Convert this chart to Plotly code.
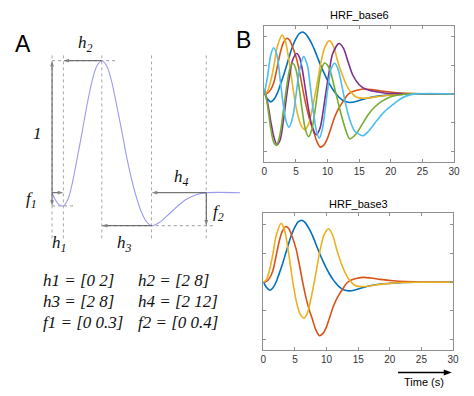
import plotly.graph_objects as go

# ---------------- data ----------------
# Panel A: schematic canonical HRF (time in s, normalised amplitude)
hrf_t = [0, 0.3, 0.7, 1.14, 1.6, 2.0, 2.5, 3.0, 3.5, 4.0, 4.5, 5.0, 5.5, 6.0, 6.5,
         7.0, 7.5, 8.0, 8.5, 9.0, 9.5, 10.0, 10.7, 11.5, 12.5, 13.5, 14.5, 15.5, 18.9]
hrf_v = [0, -0.05, -0.09, -0.10, -0.05, 0.06, 0.25, 0.45, 0.66, 0.84, 0.96, 1.0, 0.96, 0.84, 0.66,
         0.47, 0.27, 0.10, -0.04, -0.15, -0.22, -0.25, -0.23, -0.18, -0.11, -0.05, -0.015, 0, 0]

param_rows = [("h1 = [0 2]", "h2 = [2 8]"),
              ("h3 = [2 8]", "h4 = [2 12]"),
              ("f1 = [0 0.3]", "f2 = [0 0.4]")]

# Panel B basis functions (time in s, amplitude in arbitrary units)
blue_t = [0, 0.5, 1, 1.5, 2, 2.5, 3, 3.5, 4, 4.5, 5, 5.5, 6.05, 6.5, 7, 7.5, 8, 8.5, 9, 9.5,
          10, 10.5, 11, 11.5, 12, 12.7, 13.5, 14.5, 15.5, 16.5, 18, 20, 22, 24, 30]
blue_v = [0, -0.18, -0.28, -0.2, 0.0, 0.3, 0.62, 0.98, 1.35, 1.68, 1.93, 2.1, 2.16, 2.1, 1.95, 1.75, 1.5, 1.22, 0.95, 0.7,
          0.47, 0.27, 0.1, -0.04, -0.16, -0.26, -0.3, -0.27, -0.2, -0.14, -0.08, -0.04, -0.01, 0, 0]

red_t = [0, 0.5, 1, 1.5, 2, 2.5, 3, 3.58, 4, 4.5, 5.16, 5.7, 6.2, 6.7, 7.2, 7.8, 8.3, 8.85, 9.4, 9.95,
         10.5, 11, 11.5, 12, 12.6, 13.1, 13.6, 14.5, 15.75, 17, 18.5, 20.5, 22.5, 25, 30]
red_v = [0, 0.03, 0.15, 0.4, 0.9, 1.42, 1.78, 1.94, 1.87, 1.62, 1.17, 0.6, 0.02, -0.5, -0.92, -1.32, -1.66, -1.86, -1.79, -1.57,
         -1.22, -0.88, -0.62, -0.42, -0.22, -0.05, 0.04, 0.12, 0.17, 0.15, 0.1, 0.05, 0.02, 0, 0]

yellow_t = [0, 0.5, 1, 1.5, 2, 2.8, 3.3, 3.8, 4.3, 4.7, 5.2, 5.8, 6.45, 7, 7.5, 8, 8.5, 9, 9.6, 10.3,
            11, 11.5, 12.05, 13, 13.6, 14.6, 16, 18, 20, 22, 24, 30]
yellow_v = [0, 0.1, 0.45, 0.97, 1.6, 2.05, 1.85, 1.3, 0.55, -0.05, -0.65, -1.1, -1.25, -1.05, -0.6, -0.05, 0.55, 1.15, 1.65, 1.86,
            1.62, 1.22, 0.83, 0.3, 0.08, -0.12, -0.15, -0.09, -0.04, -0.01, 0, 0]

purple_t = [0, 0.5, 1, 1.5, 2, 2.5, 3, 3.5, 4, 4.5, 5.1, 5.6, 6, 6.5, 7, 7.5, 8.2, 8.8, 9.3, 9.8,
            10.3, 10.8, 11.8, 12.5, 13.2, 14, 15, 16, 17.5, 19, 21, 23, 30]
purple_v = [0.12, -0.3, -0.95, -1.5, -1.78, -1.6, -0.95, -0.1, 0.65, 1.2, 1.41, 1.25, 0.85, 0.15, -0.55, -1.1, -1.43, -1.2, -0.6, 0.15,
            0.85, 1.4, 1.76, 1.6, 1.15, 0.65, 0.32, 0.17, 0.08, 0.03, 0.01, 0, 0]

green_t = [0, 0.5, 1, 1.5, 1.9, 2.4, 3, 3.5, 4, 4.5, 5, 5.5, 6, 6.5, 7, 7.5, 8, 8.5, 9, 9.55,
           10, 10.5, 11, 11.5, 12, 12.5, 13, 13.5, 14.5, 15.5, 16.5, 17.5, 18.5, 20, 21.5, 23, 30]
green_v = [0.2, -0.4, -1.2, -1.7, -1.8, -1.5, -0.6, 0.2, 0.85, 1.07, 0.85, 0.2, -0.6, -1.25, -1.49, -1.25, -0.6, 0.2, 0.85, 1.08,
           1.0, 0.75, 0.3, -0.15, -0.6, -1.0, -1.35, -1.57, -1.4, -1.05, -0.7, -0.45, -0.27, -0.1, -0.03, 0, 0]

cyan_t = [0, 0.5, 1, 1.47, 2, 2.5, 3, 3.5, 3.9, 4.5, 5, 5.5, 6.2, 6.8, 7.3, 7.8, 8.3, 8.7, 9.2, 9.7,
          10.2, 10.6, 11.1, 11.6, 12.2, 12.8, 13.5, 14.3, 15.6, 16.5, 17.7, 19, 20.3, 21.5, 22.5, 24, 30]
cyan_v = [0.0, 0.6, 1.35, 1.61, 1.35, 0.5, -0.4, -1.0, -1.17, -0.8, -0.05, 0.75, 1.3, 1.0, 0.2, -0.7, -1.35, -1.55, -1.2, -0.4,
          0.45, 0.9, 1.07, 0.9, 0.35, -0.3, -0.9, -1.3, -1.46, -1.3, -0.96, -0.62, -0.38, -0.18, -0.07, 0, 0]

time_ticks = [0, 5, 10, 15, 20, 25, 30]
amp_ticks = [-2, -1, 0, 1, 2]

# ---------------- styling / layout helpers ----------------
W, H = 474, 396
WX = W * 0.986  # effective horizontal pixel extent used for placement
def px(x):
    return x / WX
def py(y):
    return 1 - y / H

COL = {"blue": "#0072BD", "red": "#D95319", "yellow": "#EDB120",
       "purple": "#7E2F8E", "green": "#77AC30", "cyan": "#4DBEEE"}

fig = go.Figure()

# Panel A curve
fig.add_trace(go.Scatter(x=hrf_t, y=hrf_v, mode="lines", xaxis="x3", yaxis="y3",
                         line=dict(color="#9b9bef", width=1.1, shape="spline", smoothing=0.8),
                         hoverinfo="skip", showlegend=False))

series6 = [("blue", blue_t, blue_v), ("red", red_t, red_v), ("yellow", yellow_t, yellow_v),
           ("purple", purple_t, purple_v), ("green", green_t, green_v), ("cyan", cyan_t, cyan_v)]
for name, t, v in series6:
    fig.add_trace(go.Scatter(x=t, y=v, mode="lines", xaxis="x", yaxis="y",
                             line=dict(color=COL[name], width=1.6, shape="spline", smoothing=0.8),
                             showlegend=False))
for name, t, v in series6[:3]:
    fig.add_trace(go.Scatter(x=t, y=v, mode="lines", xaxis="x2", yaxis="y2",
                             line=dict(color=COL[name], width=1.6, shape="spline", smoothing=0.8),
                             showlegend=False))

frame = "#8f8f8f"
def bx(domain):
    return dict(domain=domain, range=[0, 30], tickvals=time_ticks, ticks="inside", ticklen=3,
                tickcolor=frame, showline=True, linecolor=frame, linewidth=1, mirror="ticks",
                showgrid=False, zeroline=False,
                tickfont=dict(family="Liberation Sans", size=10, color="#333333"))
def by(domain, rng):
    return dict(domain=domain, range=rng, tickvals=amp_ticks, ticks="inside", ticklen=3,
                tickcolor=frame, showline=True, linecolor=frame, linewidth=1, mirror="ticks",
                showgrid=False, zeroline=False, showticklabels=False)

# Panel A key points derived from the data
i_peak = hrf_v.index(max(hrf_v))
i_trough = hrf_v.index(min(hrf_v))
i_dip = min(range(i_peak), key=lambda i: hrf_v[i])
i_ret = next(i for i in range(i_trough, len(hrf_v)) if hrf_v[i] == 0)
t_dip, v_dip = hrf_t[i_dip], hrf_v[i_dip]
t_peak, v_peak = hrf_t[i_peak], hrf_v[i_peak]
t_tr, v_tr = hrf_t[i_trough], hrf_v[i_trough]
t_ret = hrf_t[i_ret]

# panel A axis scale: 10 px per s, t=0 at x=49.3 px ; 132 px per unit, 0 at y=192.7 px
a_dom = 0.52
a_x_rng = [-49.3 / 10, (a_dom * WX - 49.3) / 10]
a_y_rng = [(192.7 - H) / 132, 192.7 / 132]

fig.update_layout(
    width=W, height=H, autosize=False, margin=dict(l=0, r=0, t=0, b=0, pad=0),
    paper_bgcolor="white", plot_bgcolor="white", showlegend=False,
    xaxis=bx([px(262.7), px(453.3)]),
    yaxis=by([py(162.3), py(26)], [-2.39, 2.37]),
    xaxis2=bx([px(261.7), px(452.3)]),
    yaxis2=by([py(350), py(213.3)], [-2.36, 2.40]),
    xaxis3=dict(domain=[0, a_dom], range=a_x_rng, visible=False),
    yaxis3=dict(domain=[0, 1], range=a_y_rng, visible=False),
)
fig.update_layout(yaxis2_anchor="x2", xaxis2_anchor="y2", xaxis3_anchor="y3", yaxis3_anchor="x3")

# Panel A measurement arrows (tail -> head), derived from the key points
acol = "#555555"
arrows = [((t_peak, v_peak), (t_dip, v_peak)),   # h2
          ((0, 0), (0, v_peak)),                 # 1
          ((0, 0), (0, v_dip)),                  # f1
          ((0, 0), (t_dip, 0)),                  # h1
          ((t_tr, v_tr), (t_peak, v_tr)),        # h3
          ((t_ret, 0), (t_tr, 0)),               # h4
          ((t_ret, 0), (t_ret, v_tr))]           # f2
for (x0, y0), (x1, y1) in arrows:
    fig.add_trace(go.Scatter(x=[x0, x1], y=[y0, y1], mode="lines+markers", xaxis="x3", yaxis="y3",
                             line=dict(color=acol, width=1),
                             marker=dict(symbol=["circle", "arrow"], size=[3, 6], color=acol,
                                         angleref="previous", line=dict(width=0)),
                             hoverinfo="skip", showlegend=False))

shapes = []
dash_col = "#a8a8a8"
for tt in [0, t_dip, t_peak, t_tr, t_ret]:
    shapes.append(dict(type="line", xref="x3", yref="y3", x0=tt, x1=tt, y0=1.04, y1=-0.36,
                       line=dict(color=dash_col, width=1, dash="3px,3px"), layer="below"))
hcol = "#9a9a9a"
for (xa, xb, yy) in [(0, 6.6, v_peak), (0, 2.4, v_dip), (t_peak, 16.4, v_tr)]:
    shapes.append(dict(type="line", xref="x3", yref="y3", x0=xa, x1=xb, y0=yy, y1=yy,
                       line=dict(color=hcol, width=1, dash="3px,3px"), layer="below"))
# time arrow under panel B
shapes.append(dict(type="line", xref="paper", yref="paper", x0=px(397), x1=px(446), y0=py(372.5), y1=py(372.5),
                   line=dict(color="black", width=1.4)))
shapes.append(dict(type="path", xref="paper", yref="paper",
                   path=f"M {px(443)} {py(369.5)} L {px(451)} {py(372.5)} L {px(443)} {py(375.5)} Z",
                   fillcolor="black", line=dict(width=0)))
fig.update_layout(shapes=shapes)

ann = []
serif = dict(family="Liberation Serif", size=17, color="#111111", style="italic")
def lab(text, x, y, font=serif, xanchor="center"):
    ann.append(dict(x=px(x), y=py(y), xref="paper", yref="paper", text=text, showarrow=False,
                    font=font, xanchor=xanchor, yanchor="middle"))

lab("h<sub>2</sub>", 83, 44)
lab("1", 35, 133)
lab("f<sub>1</sub>", 29, 200)
lab("h<sub>4</sub>", 179, 178)
lab("f<sub>2</sub>", 217, 213)
lab("h<sub>1</sub>", 56, 244)
lab("h<sub>3</sub>", 122, 244)

sans_big = dict(family="Liberation Sans", size=23, color="black")
lab("A", 20, 44, sans_big)
lab("B", 242, 40, sans_big)

row_y = [280, 301, 322]
for (c1, c2), yy in zip(param_rows, row_y):
    lab(c1, 38, yy, serif, "left")
    lab(c2, 134, yy, serif, "left")

sans = dict(family="Liberation Sans", size=11, color="black")
lab("HRF_base6", 358, 15, sans)
lab("HRF_base3", 357, 204, sans)
lab("Time (s)", 423, 382, sans)

fig.update_layout(annotations=ann)
fig.write_html("out.html", config={"displayModeBar": False, "responsive": False},
               post_script="document.body.style.margin='0';")
